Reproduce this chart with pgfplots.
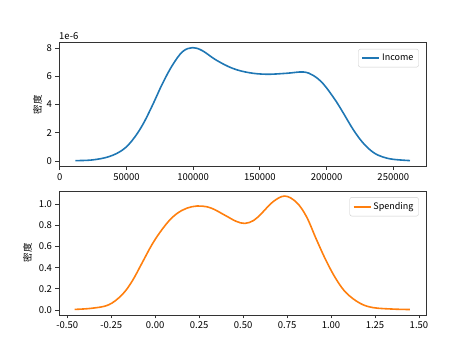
\documentclass[border=0pt]{standalone}
\usepackage{pgfplots}
\pgfplotsset{compat=1.18}
\usepackage{fontspec}
\setmainfont{Noto Sans CJK SC}
\definecolor{C0}{HTML}{1F77B4}
\definecolor{C1}{HTML}{FF7F0E}
\pgfplotsset{
  myax/.style={
    scale only axis, width=367pt, height=124pt, anchor=south west,
    axis line style={black!80, line width=0.8pt},
    tick align=outside, xtick pos=left, ytick pos=left,
    major tick length=3.5pt,
    tick style={black!80, line width=0.8pt},
    tick label style={font=\fontsize{9.5}{11}\selectfont},
    /pgf/number format/assume math mode=true,
    scaled x ticks=false, scaled y ticks=false,
    ylabel={密度}, ylabel style={font=\fontsize{9.5}{11}\selectfont},
    legend cell align=left,
    legend style={at={(0.98,0.95)}, anchor=north east, draw=black!20, rounded corners=2pt,
      font=\fontsize{9}{11}\selectfont, inner sep=3pt},
    legend image code/.code={\draw[#1] (0cm,0cm) -- (0.6cm,0cm);},
  }
}
\begin{document}
\begin{tikzpicture}
\path[use as bounding box] (0,0) rectangle (474pt,355pt);
\begin{axis}[myax, at={(59pt,188.3pt)},
  xmin=-550, xmax=274500, ymin=-0.39, ymax=8.37,
  xtick={0,50000,100000,150000,200000,250000},
  xticklabels={0,50000,100000,150000,200000,250000},
  ytick={0,2,4,6,8},
  ylabel style={yshift=-2pt},
  clip=false]
\addplot[C0, line width=1.6pt, smooth, tension=0.6] coordinates {
(11750,0.04) (24700,0.09) (37200,0.33) (47200,0.8) (54600,1.5) (62100,2.56) (69600,3.97)
(77100,5.5) (84600,6.8) (92100,7.74) (99600,8.02) (107000,7.8) (117100,7.15) (129500,6.56)
(142000,6.25) (155200,6.14) (170200,6.21) (182600,6.3) (190100,6.05) (197600,5.45)
(206400,4.33) (212600,3.39) (220100,2.21) (227500,1.27) (235000,0.62) (242000,0.3) (250000,0.13) (262500,0.04)
};
\addlegendentry{Income}
\node[anchor=south west, font=\fontsize{9.5}{11}\selectfont, inner sep=0pt] at (rel axis cs:0,1.02) {1e-6};
\end{axis}
\begin{axis}[myax, at={(59pt,40pt)},
  xmin=-0.547, xmax=1.54, ymin=-0.048, ymax=1.127,
  xtick={-0.5,-0.25,0,0.25,0.5,0.75,1,1.25,1.5},
  xticklabels={-0.50,-0.25,0.00,0.25,0.50,0.75,1.00,1.25,1.50},
  ytick={0,0.2,0.4,0.6,0.8,1.0},
  yticklabels={0.0,0.2,0.4,0.6,0.8,1.0}]
\addplot[C1, line width=1.6pt, smooth, tension=0.6] coordinates {
(-0.458,0.005) (-0.36,0.016) (-0.265,0.048) (-0.189,0.143) (-0.132,0.27) (-0.075,0.444)
(-0.018,0.62) (0.038,0.76) (0.095,0.873) (0.152,0.943) (0.209,0.978) (0.266,0.984)
(0.323,0.962) (0.399,0.895) (0.46,0.84) (0.51,0.82) (0.56,0.848) (0.605,0.915) (0.67,1.025)
(0.737,1.079) (0.803,1.02) (0.86,0.885) (0.917,0.667) (0.974,0.46) (1.031,0.286)
(1.088,0.159) (1.164,0.064) (1.239,0.022) (1.353,0.008) (1.448,0.004)
};
\addlegendentry{Spending}
\end{axis}
\end{tikzpicture}
\end{document}
